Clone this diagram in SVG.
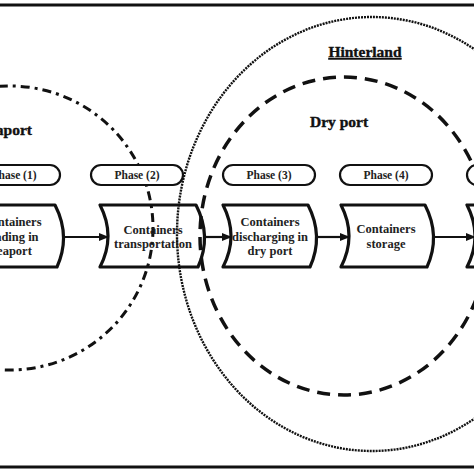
<svg xmlns="http://www.w3.org/2000/svg" width="474" height="474" viewBox="0 0 474 474">
<style>
.frame{stroke:#111;stroke-width:3;}
.box{fill:none;stroke:#111;stroke-width:3.2;stroke-linejoin:round;}
.pill{fill:#fff;stroke:#111;stroke-width:2.2;}
.t{font-family:"Liberation Serif","Times New Roman",serif;font-weight:bold;fill:#222;text-anchor:middle;}
.ph{font-size:11.5px;}
.bx{font-size:12.5px;}
.lb{font-size:15.5px;fill:#111;stroke:#111;stroke-width:0.4;}
.conn{stroke:#111;stroke-width:2.2;fill:none;}
</style>
<defs>
<marker id="ah" markerWidth="10" markerHeight="8" refX="9" refY="4" orient="auto" markerUnits="userSpaceOnUse">
<path d="M0,0 L10,4 L0,8 Z" fill="#111"/>
</marker>
</defs>
<rect width="474" height="474" fill="#fff"/>
<line class="frame" x1="0" y1="5" x2="474" y2="5"/>
<line class="frame" x1="0" y1="467" x2="474" y2="467"/>

<g id="regions">
<ellipse id="seaport-region" cx="10" cy="228" rx="143" ry="142" fill="none" stroke="#111" stroke-width="3" stroke-dasharray="9 5 3 5"/>
<ellipse id="hinterland-region" cx="372" cy="234" rx="195" ry="217" fill="none" stroke="#111" stroke-width="2.4" stroke-dasharray="2 1"/>
<ellipse id="dryport-region" cx="344" cy="236" rx="144" ry="159" fill="none" stroke="#111" stroke-width="3.5" stroke-dasharray="13 8"/>
</g>

<g id="labels">
<text class="t lb" x="32" y="135" text-anchor="end" style="text-anchor:end">Seaport</text>
<text class="t lb" x="365" y="57" text-decoration="underline">Hinterland</text>
<text class="t lb" x="339" y="127">Dry port</text>
</g>

<g id="phase1"><rect class="pill" x="-32" y="165" width="92" height="20" rx="10"/><text class="t ph" x="14" y="179">Phase (1)</text></g>
<g id="phase2"><rect class="pill" x="91" y="165" width="92" height="20" rx="10"/><text class="t ph" x="137" y="179">Phase (2)</text></g>
<g id="phase3"><rect class="pill" x="223" y="165" width="92" height="20" rx="10"/><text class="t ph" x="269" y="179">Phase (3)</text></g>
<g id="phase4"><rect class="pill" x="340" y="165" width="92" height="20" rx="10"/><text class="t ph" x="386" y="179">Phase (4)</text></g>
<g id="phase5"><rect class="pill" x="467" y="165" width="92" height="20" rx="10"/><text class="t ph" x="513" y="179">Phase (5)</text></g>

<g id="box1">
<path class="box" d="M-45,205 H55 Q71,236 57,267 H-45 Q-29,236 -45,205 Z"/>
<text class="t bx" x="12" y="226">Containers</text>
<text class="t bx" x="12" y="241">loading in</text>
<text class="t bx" x="12" y="255">seaport</text>
</g>
<g id="box2">
<path class="box" d="M100,205 H196 Q212,236 198,267 H100 Q116,236 100,205 Z"/>
<text class="t bx" x="153" y="234">Containers</text>
<text class="t bx" x="153" y="248">transportation</text>
</g>
<g id="box3">
<path class="box" d="M223,205 H308 Q324,236 310,267 H223 Q239,236 223,205 Z"/>
<text class="t bx" x="270" y="226">Containers</text>
<text class="t bx" x="270" y="241">discharging in</text>
<text class="t bx" x="270" y="255">dry port</text>
</g>
<g id="box4">
<path class="box" d="M341,205 H425 Q441,236 427,267 H341 Q357,236 341,205 Z"/>
<text class="t bx" x="386" y="233">Containers</text>
<text class="t bx" x="386" y="248">storage</text>
</g>
<g id="box5">
<path class="box" d="M467,205 H560 Q576,236 562,267 H467 Q483,236 467,205 Z"/>
</g>

<g id="connectors">
<line class="conn" x1="63" y1="237" x2="108" y2="237" marker-end="url(#ah)"/>
<line class="conn" x1="204" y1="237" x2="231" y2="237" marker-end="url(#ah)"/>
<line class="conn" x1="317" y1="237" x2="349" y2="237" marker-end="url(#ah)"/>
<line class="conn" x1="433" y1="237" x2="475" y2="237" marker-end="url(#ah)"/>
</g>
</svg>
